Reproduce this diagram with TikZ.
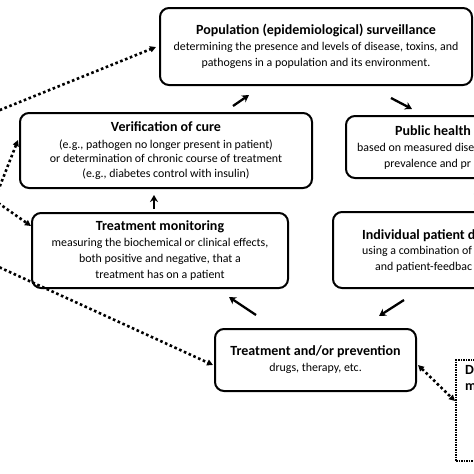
\documentclass[tikz,border=0pt]{standalone}
\usepackage{fontspec}
\setmainfont{Carlito}
\usetikzlibrary{arrows.meta}
\newcommand\ttlfont{\fontsize{14}{16}\selectfont\bfseries}
\newcommand\bodyfont{\fontsize{11.9}{15.6}\selectfont}
\begin{document}
\begin{tikzpicture}[x=1pt,y=-1pt,
  box/.style={draw, line width=2pt, rounded corners=9pt, inner sep=0pt, align=center, font=\bodyfont},
  dbox/.style={draw, line width=1.5pt, densely dotted},
  flow/.style={line width=2.3pt, -{Stealth[length=7pt,width=8pt]}},
  dotline/.style={line width=2.6pt, dash pattern=on 2.6pt off 2.6pt, -{Triangle[length=6pt,width=6pt]}},
  dotboth/.style={line width=2.6pt, dash pattern=on 2.6pt off 2.6pt, {Triangle[length=6pt,width=6pt]}-{Triangle[length=6pt,width=6pt]}},
  cut/.style={anchor=base west, font=\bodyfont, inner sep=0pt},
  cutt/.style={anchor=base west, font=\ttlfont, inner sep=0pt},
]
\useasboundingbox (0,0) rectangle (474,474);
\clip (0,0) rectangle (474,474);

% boxes
\node[box, minimum width=312pt, minimum height=77pt] (pop) at (316,46.5)
  {{\ttlfont Population (epidemiological) surveillance}\\[0.5pt]
   determining the presence and levels of disease, toxins, and\\
   pathogens in a population and its environment.};
\node[box, minimum width=292pt, minimum height=75pt] (ver) at (166,150.5)
  {{\ttlfont Verification of cure}\\[1.5pt]
   (e.g., pathogen no longer present in patient)\\[-1pt]
   or determination of chronic course of treatment\\[-1pt]
   (e.g., diabetes control with insulin)};
\node[box, minimum width=256pt, minimum height=75pt] (mon) at (160,250.5)
  {{\ttlfont Treatment monitoring}\\[0.5pt]
   measuring the biochemical or clinical effects,\\
   both positive and negative, that a\\
   treatment has on a patient};
\node[box, minimum width=201pt, minimum height=62pt] (trt) at (315.5,360)
  {{\ttlfont Treatment and/or prevention}\\[0.5pt]
   drugs, therapy, etc.};
\node[box, minimum width=260pt, minimum height=62pt] (pub) at (476,147) {};
\node[box, minimum width=280pt, minimum height=76pt] (ind) at (473,250) {};
\node[dbox, minimum width=120pt, minimum height=101pt, inner sep=0pt] (dm) at (516,410.5) {};

% clipped texts
\node[cutt] (pubt) at (395,135) {Public health};
\node[cut] (pub1) at (357,151) {based on measured dise};
\node[cut] (pub2) at (384,167) {prevalence and pr};
\node[cutt] (indt) at (362,239) {Individual patient d};
\node[cut] (ind1) at (362,254) {using a combination of};
\node[cut] (ind2) at (375,270) {and patient-feedbac};
\node[cutt] (dmt) at (465,374) {D};
\node[cutt] (dmt2) at (465,390) {m};

% solid cycle arrows
\coordinate (a1s) at (233,106); \coordinate (a1e) at (249,95);
\coordinate (a2s) at (391,98);  \coordinate (a2e) at (412,109);
\coordinate (a3s) at (154,209); \coordinate (a3e) at (154,195);
\coordinate (a4s) at (256,315); \coordinate (a4e) at (229,297);
\coordinate (a5s) at (404,300); \coordinate (a5e) at (379,316);
\coordinate (a6s) at (478,184); \coordinate (a6e) at (478,201);
\draw[flow] (a1s) -- (a1e);
\draw[flow] (a2s) -- (a2e);
\draw[flow] (a3s) -- (a3e);
\draw[flow] (a4s) -- (a4e);
\draw[flow] (a5s) -- (a5e);
\draw[flow] (a6s) -- (a6e);

% dotted connectors from off-picture source
\coordinate (s1) at (-10,114);
\coordinate (s2) at (-4,196);
\coordinate (s3) at (-6,200);
\coordinate (s4) at (-10,263);
\coordinate (e1) at (156,47);
\coordinate (e2) at (18,140);
\coordinate (e3) at (31,226);
\coordinate (e4) at (213,365);
\coordinate (d1) at (418,365);
\coordinate (d2) at (455,401);
\draw[dotline] (s1) -- (e1);
\draw[dotline] (s2) -- (e2);
\draw[dotline] (s3) -- (e3);
\draw[dotline] (s4) -- (e4);
\draw[dotboth] (d1) -- (d2);
\end{tikzpicture}
\end{document}
